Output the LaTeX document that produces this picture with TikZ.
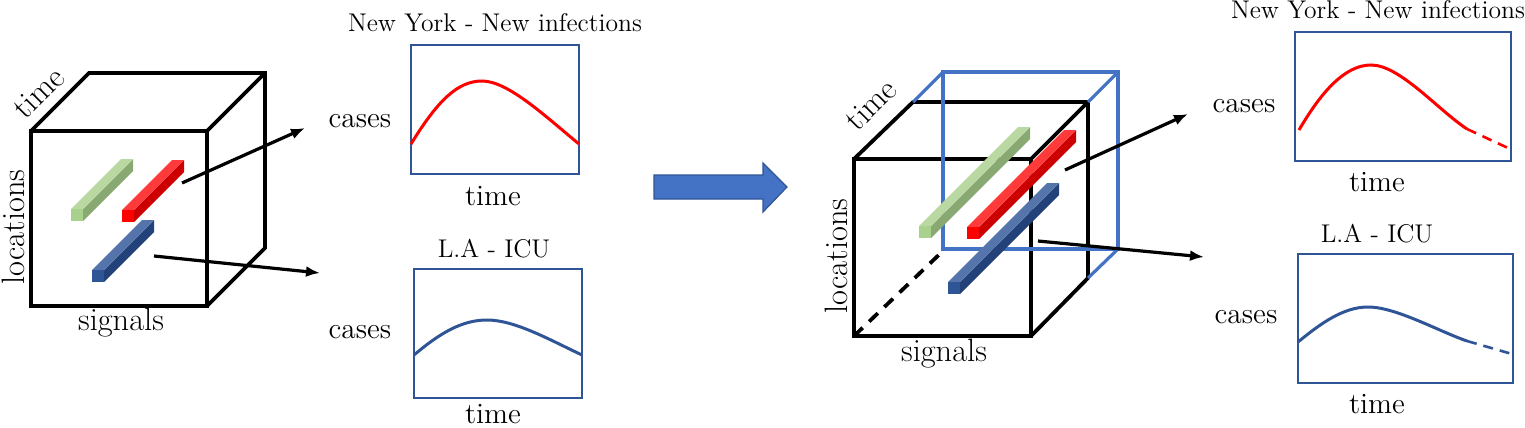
\documentclass[tikz,border=0pt]{standalone}
\usetikzlibrary{arrows.meta}
\definecolor{nblue}{HTML}{2F5597}
\definecolor{lblue}{HTML}{4472C4}
\definecolor{gfront}{HTML}{A9D18E}
\definecolor{gtop}{HTML}{BAD8A2}
\definecolor{gside}{HTML}{89A972}
\definecolor{rfront}{HTML}{FF0000}
\definecolor{rtop}{HTML}{FF3A3A}
\definecolor{rside}{HTML}{CC0000}
\definecolor{bfront}{HTML}{2F5597}
\definecolor{btop}{HTML}{5574AB}
\definecolor{bside}{HTML}{24427A}
\newcommand{\mybar}[6]{%
  \fill[#6] (#1+12,#2) -- ++(#3,-#3) -- ++(0,12) -- (#1+12,#2+12) -- cycle;
  \fill[#5] (#1,#2) -- ++(#3,-#3) -- ++(12,0) -- (#1+12,#2) -- cycle;
  \fill[#4] (#1,#2) rectangle ++(12,12);}
\begin{document}
\begin{tikzpicture}[x=0.5pt,y=-0.5pt,
  cubeline/.style={line width=1.9pt,line join=miter},
  hidline/.style={line width=1.9pt,dash pattern=on 6pt off 4.5pt},
  extline/.style={lblue,line width=1.6pt},
  plotframe/.style={draw=nblue,line width=1pt,minimum width=84pt,minimum height=64.5pt,inner sep=0pt},
  ptr/.style={line width=1.6pt,-{Latex[length=7pt,width=5.5pt]}},
  axislab/.style={font=\fontsize{14.7}{16}\selectfont,inner sep=0pt},
  titlelab/.style={font=\fontsize{12.8}{14}\selectfont,inner sep=0pt},
  cubelab/.style={font=\fontsize{16.2}{18}\selectfont,inner sep=0pt},
  redcurve/.style={red,line width=1.5pt},
  bluecurve/.style={nblue,line width=1.5pt},
  bigarrow/.style={fill=lblue,draw=nblue,line width=0.6pt,line join=miter}]
\useasboundingbox (0,0) rectangle (1525,428);

% ---------- left cube ----------
\draw[cubeline] (31,131) rectangle (207,306);
\draw[cubeline] (31,131) -- (89,73) -- (265,73) -- (265,248) -- (207,306);
\draw[cubeline] (207,131) -- (265,73);
\mybar{71}{209}{50}{gfront}{gtop}{gside}
\mybar{122}{210}{50}{rfront}{rtop}{rside}
\mybar{92}{270}{50}{bfront}{btop}{bside}
\node[cubelab,rotate=45] (ltime) at (39,93) {time};
\node[cubelab,rotate=90] (lloc) at (13,227) {locations};
\node[cubelab] (lsig) at (121,323) {signals};

% ---------- left plots ----------
\node[plotframe] (p1) at (495,109.5) {};
\node[titlelab] (p1t) at (495,23) {New York - New infections};
\node[axislab] (p1y) at (360,121) {cases};
\node[axislab] (p1x) at (493,196) {time};
\draw[redcurve] (411,144) .. controls (438,100) and (458,81) .. (482,81)
  .. controls (508,81) and (545,116) .. (579,144);

\node[plotframe] (p2) at (498,333) {};
\node[titlelab] (p2t) at (494,249) {L.A - ICU};
\node[axislab] (p2y) at (360,332) {cases};
\node[axislab] (p2x) at (493,414) {time};
\draw[bluecurve] (414,355) .. controls (440,333) and (462,320) .. (487,320)
  .. controls (515,320) and (550,340) .. (582,355);

\coordinate (la1) at (182,183);
\coordinate (lb1) at (305,128);
\coordinate (la2) at (154,256);
\coordinate (lb2) at (320,273);
\draw[ptr] (la1) -- (lb1);
\draw[ptr] (la2) -- (lb2);

% ---------- big arrow ----------
\draw[bigarrow] (654,175) -- (763,175) -- (763,163) -- (787,187) -- (763,212)
  -- (763,199) -- (654,199) -- cycle;

% ---------- right cube ----------
\draw[hidline] (854,336) -- (945,249);
\draw[cubeline] (854,159) rectangle (1031,336);
\draw[cubeline] (854,159) -- (913,102) -- (1088,102) -- (1088,278) -- (1031,336);
\draw[cubeline] (1031,159) -- (1088,102);
\draw[extline] (913,102) -- (943,72);
\draw[extline] (1088,102) -- (1118,72);
\draw[extline] (1088,278) -- (1118,249);
\draw[extline] (943,72) rectangle (1118,249);
\mybar{919}{226}{99}{gfront}{gtop}{gside}
\mybar{967}{227}{97}{rfront}{rtop}{rside}
\mybar{948}{282}{99}{bfront}{btop}{bside}
\node[cubelab,rotate=45] (rtime) at (871,105) {time};
\node[cubelab,rotate=90] (rloc) at (836,256) {locations};
\node[cubelab] (rsig) at (944,354) {signals};

% ---------- right plots ----------
\node[plotframe,minimum width=108pt] (p3) at (1403,96.5) {};
\node[titlelab] (p3t) at (1378,10) {New York - New infections};
\node[axislab] (p3y) at (1244,106) {cases};
\node[axislab] (p3x) at (1377,182) {time};
\draw[redcurve] (1299,130) .. controls (1320,94) and (1344,65) .. (1371,65)
  .. controls (1400,65) and (1438,110) .. (1467,129);
\draw[redcurve,line width=1.3pt,dash pattern=on 5pt off 3.5pt] (1467,129) -- (1508,148);

\node[plotframe,minimum width=107.5pt] (p4) at (1405.5,318) {};
\node[titlelab] (p4t) at (1377,234) {L.A - ICU};
\node[axislab] (p4y) at (1246,317) {cases};
\node[axislab] (p4x) at (1377,404) {time};
\draw[bluecurve] (1298,342) .. controls (1320,324) and (1343,307) .. (1368,307)
  .. controls (1396,307) and (1438,331) .. (1467,341);
\draw[bluecurve,line width=1.3pt,dash pattern=on 5pt off 3.5pt] (1467,341) -- (1512,354);

\coordinate (ra1) at (1065,170);
\coordinate (rb1) at (1188,114);
\coordinate (ra2) at (1038,241);
\coordinate (rb2) at (1204,257);
\draw[ptr] (ra1) -- (rb1);
\draw[ptr] (ra2) -- (rb2);
\end{tikzpicture}
\end{document}
